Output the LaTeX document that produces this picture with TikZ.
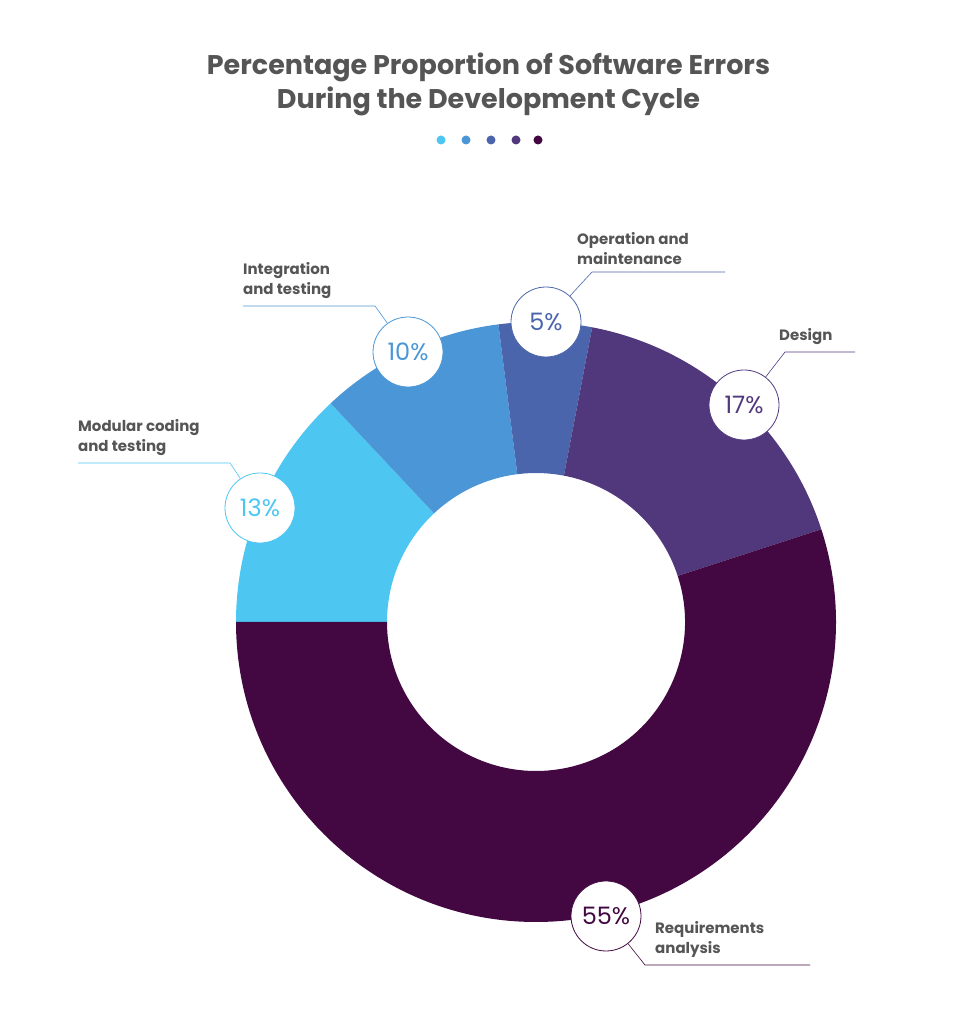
\documentclass[tikz,border=0pt]{standalone}
\usepackage{fontspec}
\setmainfont{Poppins}
\definecolor{cA}{HTML}{4DC6F2}
\definecolor{cB}{HTML}{4A96D6}
\definecolor{cC}{HTML}{4A65AC}
\definecolor{cD}{HTML}{51387D}
\definecolor{cE}{HTML}{430842}
\definecolor{tg}{HTML}{555555}
\begin{document}
\begin{tikzpicture}[x=1pt,y=1pt,
  pct/.style={circle,fill=white,draw=#1,text=#1,line width=0.8pt,minimum size=70pt,inner sep=0pt,font=\fontsize{24}{24}\selectfont},
  lbl/.style={anchor=south west,align=left,text=tg,font=\fontsize{15}{20}\selectfont\bfseries,inner sep=0pt},
  lead/.style={line width=0.6pt,draw=#1}]
\useasboundingbox (0,0) rectangle (977,1024);
\coordinate (C) at (536,402);
\newcommand\seg[3]{\fill[#3] ([shift={(#1:300)}]C) arc[start angle=#1,end angle=#2,radius=300] -- ([shift={(#2:149)}]C) arc[start angle=#2,end angle=#1,radius=149] -- cycle;}
\seg{133.2}{180}{cA}
\seg{97.2}{133.2}{cB}
\seg{79.2}{97.2}{cC}
\seg{18}{79.2}{cD}
\seg{-180}{18}{cE}
\node[text=tg,font=\fontsize{27}{34}\selectfont\bfseries,align=center] (title) at (488.5,940) {Percentage Proportion of Software Errors\\During the Development Cycle};
\foreach \x/\c [count=\i] in {441/cA,466/cB,491/cC,516/cD,538/cE} \fill[\c] (\x,884) circle (4.5) coordinate (d\i);
\node[pct=cA] (pA) at (260,516) {13\%};
\node[pct=cB] (pB) at (408,672) {10\%};
\node[pct=cC] (pC) at (546,702) {5\%};
\node[pct=cD] (pD) at (744,619) {17\%};
\node[pct=cE] (pE) at (606,108) {55\%};
\coordinate (kA) at (230,561); \coordinate (eA) at (78,561);
\coordinate (kB) at (375,718); \coordinate (eB) at (243,718);
\coordinate (kC) at (592,752); \coordinate (eC) at (725,752);
\coordinate (kD) at (785,672); \coordinate (eD) at (855,672);
\coordinate (kE) at (645,59); \coordinate (eE) at (810,59);
\draw[lead=cA] (pA) -- (kA) -- (eA);
\draw[lead=cB] (pB) -- (kB) -- (eB);
\draw[lead=cC] (pC) -- (kC) -- (eC);
\draw[lead=cD] (pD) -- (kD) -- (eD);
\draw[lead=cE] (pE) -- (kE) -- (eE);
\node[lbl] (lA) at (78,568) {Modular coding\\and testing};
\node[lbl] (lB) at (243,725) {Integration\\and testing};
\node[lbl] (lC) at (577,759) {Operation and\\maintenance};
\node[lbl] (lD) at (779,679) {Design};
\node[lbl] (lE) at (655,66) {Requirements\\analysis};
\end{tikzpicture}
\end{document}
